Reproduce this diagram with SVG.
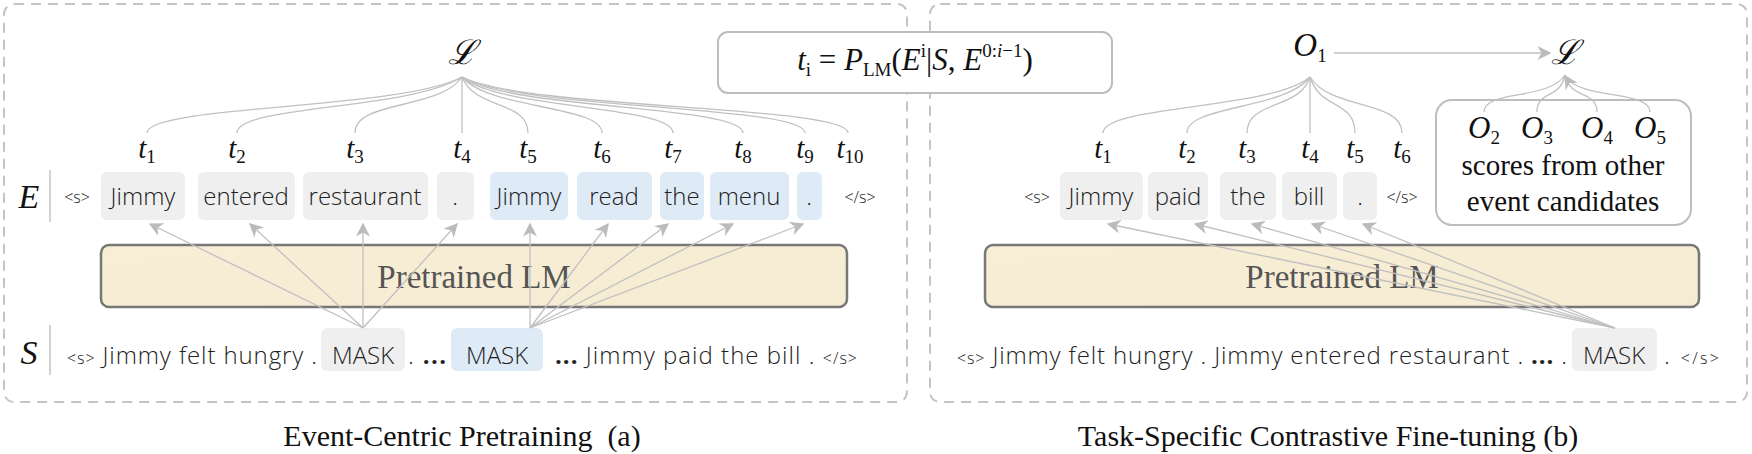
<svg xmlns="http://www.w3.org/2000/svg" width="1752" height="454" viewBox="0 0 1752 454">
<defs>
<marker id="ahs" viewBox="0 0 10 10" refX="9" refY="5" markerWidth="14" markerHeight="14" orient="auto" markerUnits="userSpaceOnUse"><path d="M0,0 L10,5 L0,10 L3,5 z" fill="#bbb"/></marker>
<linearGradient id="lm" x1="0" y1="0" x2="1" y2="1"><stop offset="0" stop-color="#f8eed6"/><stop offset="1" stop-color="#f6ebd3"/></linearGradient>
</defs>
<style>
.panel{fill:none;stroke:#c4c4c4;stroke-width:2;stroke-dasharray:10 7}
.tok{font-family:"Open Sans",Lato,sans-serif;font-weight:300;font-size:24px;fill:#222}
.sm{font-family:"Open Sans",Lato,sans-serif;font-weight:300;font-size:16px;fill:#222}
.g{fill:#efefef}
.b{fill:#dfeaf7}
.math{font-family:"Liberation Serif","DejaVu Serif",serif;font-style:italic;fill:#111}
.sub{font-style:normal;font-size:19px}
.lm{fill:url(#lm);stroke:#777;stroke-width:2.5}
.lmt{font-family:"Liberation Serif",serif;font-size:33px;fill:#555}
.cap{font-family:"Liberation Serif",serif;font-size:30px;fill:#111}
.ser{font-family:"Liberation Serif",serif;font-size:29px;fill:#111}
.c{fill:none;stroke:#c0c0c0;stroke-width:1.3}
.a{fill:none;stroke:#c0c0c0;stroke-width:1.3;marker-end:url(#ahs)}
.box{fill:#fff;stroke:#bdbdbd;stroke-width:2}
</style>
<rect class="panel" x="4" y="4" width="903" height="398" rx="10"/>
<rect class="panel" x="930" y="4" width="817" height="398" rx="10"/>

<g id="lm-left"><rect class="lm" x="101" y="245" width="746" height="62" rx="8"/><text class="lmt" x="474" y="288" text-anchor="middle">Pretrained LM</text></g>
<g id="lm-right"><rect class="lm" x="985" y="245" width="714" height="62" rx="8"/><text class="lmt" x="1342" y="288" text-anchor="middle">Pretrained LM</text></g>

<g id="formula"><rect class="box" x="718" y="32" width="394" height="61" rx="10"/>
<text class="math" x="915" y="70" font-size="31" text-anchor="middle">t<tspan class="sub" font-style="italic" dy="6">i</tspan><tspan dy="-6" font-style="normal"> = </tspan>P<tspan class="sub" font-style="italic" dy="6">LM</tspan><tspan dy="-6" font-style="normal">(</tspan>E<tspan class="sub" font-style="italic" dy="-13">i</tspan><tspan dy="13" font-style="normal">|</tspan>S<tspan font-style="normal">, </tspan>E<tspan class="sub" dy="-13">0:<tspan font-style="italic">i</tspan>−1</tspan><tspan dy="13" font-style="normal">)</tspan></text></g>

<g id="E-left">
<text class="math" x="29" y="208" font-size="34" text-anchor="middle">E</text>
<line x1="50" y1="170" x2="50" y2="222" stroke="#bbb" stroke-width="1.3"/>
<text class="sm" x="77" y="203" text-anchor="middle">&lt;s&gt;</text>
<rect class="g" x="101" y="172" width="84" height="48" rx="6"/><text class="tok" x="143" y="205" text-anchor="middle">Jimmy</text>
<rect class="g" x="198" y="172" width="97" height="48" rx="6"/><text class="tok" x="246" y="205" text-anchor="middle">entered</text>
<rect class="g" x="303" y="172" width="125" height="48" rx="6"/><text class="tok" x="365" y="205" text-anchor="middle">restaurant</text>
<rect class="g" x="437" y="172" width="37" height="48" rx="6"/><text class="tok" x="455" y="205" text-anchor="middle">.</text>
<rect class="b" x="490" y="172" width="78" height="48" rx="6"/><text class="tok" x="529" y="205" text-anchor="middle">Jimmy</text>
<rect class="b" x="577" y="172" width="75" height="48" rx="6"/><text class="tok" x="614" y="205" text-anchor="middle">read</text>
<rect class="b" x="660" y="172" width="44" height="48" rx="6"/><text class="tok" x="682" y="205" text-anchor="middle">the</text>
<rect class="b" x="710" y="172" width="79" height="48" rx="6"/><text class="tok" x="749" y="205" text-anchor="middle">menu</text>
<rect class="b" x="797" y="172" width="25" height="48" rx="6"/><text class="tok" x="809" y="205" text-anchor="middle">.</text>
<text class="sm" x="860" y="203" text-anchor="middle">&lt;/s&gt;</text>
</g>
<g id="t-left" class="math" font-size="29" text-anchor="middle">
<text x="147" y="158">t<tspan class="sub" dy="5">1</tspan></text>
<text x="237" y="158">t<tspan class="sub" dy="5">2</tspan></text>
<text x="355" y="158">t<tspan class="sub" dy="5">3</tspan></text>
<text x="462" y="158">t<tspan class="sub" dy="5">4</tspan></text>
<text x="528" y="158">t<tspan class="sub" dy="5">5</tspan></text>
<text x="602" y="158">t<tspan class="sub" dy="5">6</tspan></text>
<text x="673" y="158">t<tspan class="sub" dy="5">7</tspan></text>
<text x="743" y="158">t<tspan class="sub" dy="5">8</tspan></text>
<text x="805" y="158">t<tspan class="sub" dy="5">9</tspan></text>
<text x="850" y="158">t<tspan class="sub" dy="5">10</tspan></text>
</g>
<g id="L-left"><text class="math" x="462" y="64" font-size="34" text-anchor="middle">ℒ</text></g>

<g id="S-left">
<text class="math" x="29" y="364" font-size="34" text-anchor="middle">S</text>
<line x1="50" y1="325" x2="50" y2="375" stroke="#bbb" stroke-width="1.3"/>
<rect class="g" x="321" y="328" width="84" height="43" rx="6"/>
<rect class="b" x="451" y="328" width="92" height="43" rx="6"/>
<text class="tok" x="67" y="364" textLength="250" lengthAdjust="spacing"><tspan class="sm">&lt;s&gt;</tspan> Jimmy felt hungry .</text>
<text class="tok" x="363" y="364" text-anchor="middle">MASK</text>
<text class="tok" x="408" y="364" textLength="38" lengthAdjust="spacing">. <tspan font-weight="700">...</tspan></text>
<text class="tok" x="497" y="364" text-anchor="middle">MASK</text>
<text class="tok" x="555" y="364" textLength="302" lengthAdjust="spacing"><tspan font-weight="700">...</tspan> Jimmy paid the bill . <tspan class="sm">&lt;/s&gt;</tspan></text>
</g>

<g id="O1"><text class="math" x="1310" y="56" font-size="33" text-anchor="middle">O<tspan class="sub" dy="6">1</tspan></text></g>
<g id="L-right"><text class="math" x="1565" y="64" font-size="34" text-anchor="middle">ℒ</text></g>
<g id="E-right">
<text class="sm" x="1037" y="203" text-anchor="middle">&lt;s&gt;</text>
<rect class="g" x="1060" y="172" width="83" height="48" rx="6"/><text class="tok" x="1101" y="205" text-anchor="middle">Jimmy</text>
<rect class="g" x="1148" y="172" width="60" height="48" rx="6"/><text class="tok" x="1178" y="205" text-anchor="middle">paid</text>
<rect class="g" x="1220" y="172" width="56" height="48" rx="6"/><text class="tok" x="1248" y="205" text-anchor="middle">the</text>
<rect class="g" x="1282" y="172" width="55" height="48" rx="6"/><text class="tok" x="1309" y="205" text-anchor="middle">bill</text>
<rect class="g" x="1343" y="172" width="34" height="48" rx="6"/><text class="tok" x="1360" y="205" text-anchor="middle">.</text>
<text class="sm" x="1402" y="203" text-anchor="middle">&lt;/s&gt;</text>
</g>
<g id="t-right" class="math" font-size="29" text-anchor="middle">
<text x="1103" y="158">t<tspan class="sub" dy="5">1</tspan></text>
<text x="1187" y="158">t<tspan class="sub" dy="5">2</tspan></text>
<text x="1247" y="158">t<tspan class="sub" dy="5">3</tspan></text>
<text x="1310" y="158">t<tspan class="sub" dy="5">4</tspan></text>
<text x="1355" y="158">t<tspan class="sub" dy="5">5</tspan></text>
<text x="1402" y="158">t<tspan class="sub" dy="5">6</tspan></text>
</g>
<g id="others"><rect class="box" x="1436" y="100" width="255" height="125" rx="16"/>
<text class="math" font-size="31" text-anchor="middle"><tspan x="1484" y="138">O<tspan class="sub" dy="6">2</tspan></tspan><tspan x="1537" y="138">O<tspan class="sub" dy="6">3</tspan></tspan><tspan x="1597" y="138">O<tspan class="sub" dy="6">4</tspan></tspan><tspan x="1650" y="138">O<tspan class="sub" dy="6">5</tspan></tspan></text>
<text class="ser" x="1563" y="175" text-anchor="middle">scores from other</text>
<text class="ser" x="1563" y="211" text-anchor="middle">event candidates</text></g>
<g id="S-right">
<rect class="g" x="1572" y="328" width="85" height="43" rx="6"/>
<text class="tok" x="957" y="364" textLength="610" lengthAdjust="spacing"><tspan class="sm">&lt;s&gt;</tspan> Jimmy felt hungry . Jimmy entered restaurant . <tspan font-weight="700">...</tspan> .</text>
<text class="tok" x="1614" y="364" text-anchor="middle">MASK</text>
<text class="tok" x="1664" y="364" textLength="55" lengthAdjust="spacing">. <tspan class="sm">&lt;/s&gt;</tspan></text>
</g>

<g id="captions">
<text class="cap" x="462" y="446" text-anchor="middle" xml:space="preserve">Event-Centric Pretraining  (a)</text>
<text class="cap" x="1328" y="446" text-anchor="middle">Task-Specific Contrastive Fine-tuning (b)</text>
</g>

<g id="connectors">
<path class="c" d="M147,133 C147,105 400,110 462,77"/>
<path class="c" d="M237,133 C237,105 410,110 462,77"/>
<path class="c" d="M355,133 C355,100 440,110 462,77"/>
<path class="c" d="M462,133 L462,77"/>
<path class="c" d="M528,133 C528,100 475,110 462,77"/>
<path class="c" d="M602,133 C602,105 490,110 462,77"/>
<path class="c" d="M673,133 C673,105 500,110 462,77"/>
<path class="c" d="M743,133 C743,105 510,110 462,77"/>
<path class="c" d="M805,133 C805,105 520,110 462,77"/>
<path class="c" d="M848,133 C848,105 530,110 462,77"/>
<path class="a" d="M363,328 L150,224"/>
<path class="a" d="M363,328 L250,224"/>
<path class="a" d="M363,328 L363,224"/>
<path class="a" d="M363,328 L457,224"/>
<path class="a" d="M530,328 L530,224"/>
<path class="a" d="M530,328 L608,224"/>
<path class="a" d="M530,328 L668,224"/>
<path class="a" d="M530,328 L733,224"/>
<path class="a" d="M530,328 L803,224"/>
<path class="c" d="M1103,133 C1103,105 1270,110 1310,77"/>
<path class="c" d="M1187,133 C1187,105 1285,110 1310,77"/>
<path class="c" d="M1247,133 C1247,100 1300,110 1310,77"/>
<path class="c" d="M1310,133 L1310,77"/>
<path class="c" d="M1355,133 C1355,100 1320,110 1310,77"/>
<path class="c" d="M1402,133 C1402,100 1330,110 1310,77"/>
<path class="a" d="M1334,53 L1550,53"/>
<path class="c" d="M1484,112 C1484,90 1550,100 1565,75"/>
<path class="c" d="M1537,112 C1537,90 1560,100 1565,75"/>
<path class="c" d="M1597,112 C1597,90 1570,100 1565,75"/>
<path class="a" d="M1650,112 C1650,90 1580,100 1565,76"/>
<path class="a" d="M1615,328 L1108,224"/>
<path class="a" d="M1615,328 L1195,224"/>
<path class="a" d="M1615,328 L1252,224"/>
<path class="a" d="M1615,328 L1312,224"/>
<path class="a" d="M1615,328 L1363,224"/>
</g>
</svg>
